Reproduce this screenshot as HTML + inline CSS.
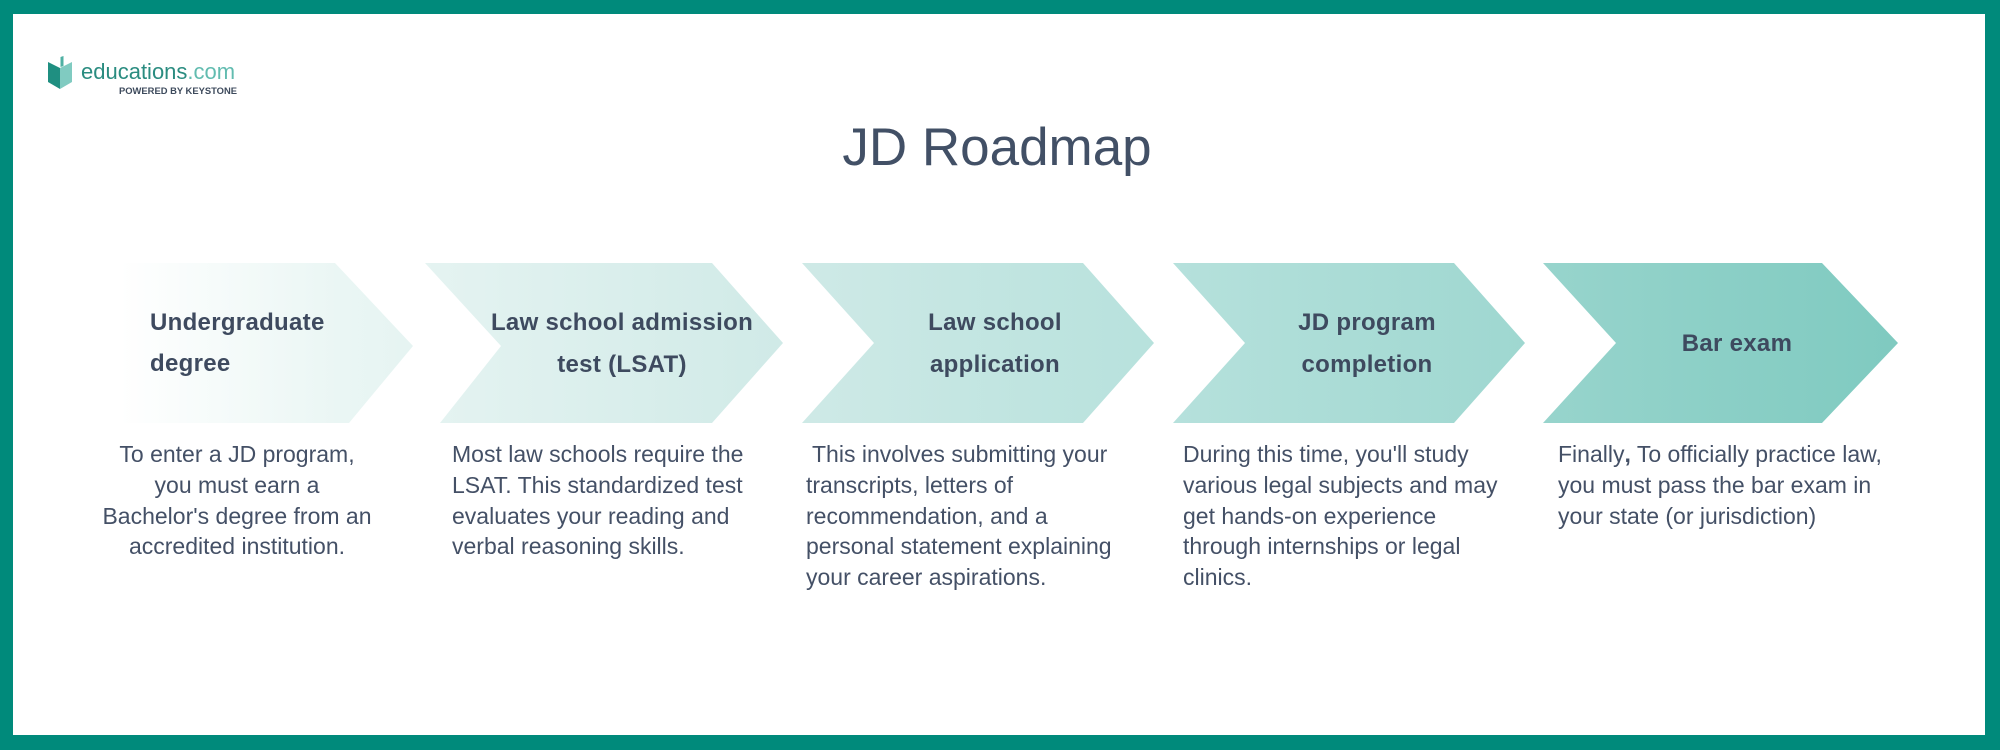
<!DOCTYPE html>
<html>
<head>
<meta charset="utf-8">
<style>
  html,body{margin:0;padding:0;background:#ffffff;}
  body{width:2000px;height:750px;overflow:hidden;}
  svg{display:block;}
</style>
</head>
<body>
<svg width="2000" height="750" viewBox="0 0 2000 750" xmlns="http://www.w3.org/2000/svg">
  <defs>
    <linearGradient id="g" gradientUnits="userSpaceOnUse" x1="120" y1="0" x2="1900" y2="0">
      <stop offset="0" stop-color="#ffffff"/>
      <stop offset="0.124" stop-color="#eaf6f4"/>
      <stop offset="0.180" stop-color="#e4f3f1"/>
      <stop offset="0.371" stop-color="#d0eae7"/>
      <stop offset="0.590" stop-color="#b6e1dc"/>
      <stop offset="0.792" stop-color="#9ed7d0"/>
      <stop offset="0.803" stop-color="#97d4cc"/>
      <stop offset="1" stop-color="#7fcac0"/>
    </linearGradient>
  </defs>

  <!-- frame -->
  <rect x="0" y="0" width="2000" height="750" fill="#008a7b"/>
  <rect x="13" y="14" width="1972" height="721" fill="#ffffff"/>

  <!-- logo -->
  <polygon points="48,62 60,68 60,89 48,82" fill="#1f8f81"/>
  <polygon points="60,68 72,62 72,82 60,89" fill="#80cbc1"/>
  <polygon points="60.5,57 63.5,56 63.5,66 60.5,67" fill="#4fb0a3"/>
  <text x="81" y="79" font-family="Liberation Sans, sans-serif" font-size="22" fill="#2a8c80">educations<tspan fill="#62bcb0">.com</tspan></text>
  <text x="119" y="94" font-family="Liberation Sans, sans-serif" font-size="9.3" font-weight="bold" fill="#3d4a5c" textLength="118" lengthAdjust="spacingAndGlyphs">POWERED BY KEYSTONE</text>

  <!-- title -->
  <text x="997" y="165" text-anchor="middle" font-family="Liberation Sans, sans-serif" font-size="53" fill="#425066">JD Roadmap</text>

  <!-- chevrons -->
  <polygon points="110,263 335,263 413,346 349,423 110,423" fill="url(#g)"/>
  <polygon points="425,263 712,263 783,343 712,423 440,423 501,346" fill="url(#g)"/>
  <polygon points="802,263 1083,263 1154,343 1083,423 802,423 874,343" fill="url(#g)"/>
  <polygon points="1173,263 1454,263 1525,343 1454,423 1173,423 1245,343" fill="url(#g)"/>
  <polygon points="1543,263 1822,263 1898,343 1822,423 1543,423 1616,343" fill="url(#g)"/>

  <!-- chevron labels -->
  <g font-family="Liberation Sans, sans-serif" font-size="24" font-weight="bold" fill="#3e4a5f" letter-spacing="0.3">
    <text x="150" y="330">Undergraduate</text>
    <text x="150" y="371">degree</text>
    <text x="622" y="330" text-anchor="middle">Law school admission</text>
    <text x="622" y="372" text-anchor="middle">test (LSAT)</text>
    <text x="995" y="330" text-anchor="middle">Law school</text>
    <text x="995" y="372" text-anchor="middle">application</text>
    <text x="1367" y="330" text-anchor="middle">JD program</text>
    <text x="1367" y="372" text-anchor="middle">completion</text>
    <text x="1737" y="351" text-anchor="middle">Bar exam</text>
  </g>

  <!-- descriptions -->
  <g font-family="Liberation Sans, sans-serif" font-size="23" fill="#445066">
    <text x="237" y="462" text-anchor="middle">To enter a JD program,</text>
    <text x="237" y="493" text-anchor="middle">you must earn a</text>
    <text x="237" y="524" text-anchor="middle">Bachelor's degree from an</text>
    <text x="237" y="554" text-anchor="middle">accredited institution.</text>

    <text x="452" y="462">Most law schools require the</text>
    <text x="452" y="493">LSAT. This standardized test</text>
    <text x="452" y="524">evaluates your reading and</text>
    <text x="452" y="554">verbal reasoning skills.</text>

    <text x="812" y="462">This involves submitting your</text>
    <text x="806" y="493">transcripts, letters of</text>
    <text x="806" y="524">recommendation, and a</text>
    <text x="806" y="554">personal statement explaining</text>
    <text x="806" y="585">your career aspirations.</text>

    <text x="1183" y="462">During this time, you'll study</text>
    <text x="1183" y="493">various legal subjects and may</text>
    <text x="1183" y="524">get hands-on experience</text>
    <text x="1183" y="554">through internships or legal</text>
    <text x="1183" y="585">clinics.</text>

    <text x="1558" y="462">Finally<tspan font-weight="bold">,</tspan> To officially practice law,</text>
    <text x="1558" y="493">you must pass the bar exam in</text>
    <text x="1558" y="524">your state (or jurisdiction)</text>
  </g>
</svg>
</body>
</html>
